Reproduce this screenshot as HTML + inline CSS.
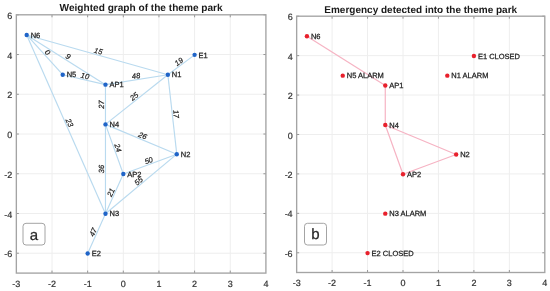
<!DOCTYPE html>
<html><head><meta charset="utf-8"><style>
html,body{margin:0;padding:0;background:#fff;width:550px;height:291px;overflow:hidden}
svg{display:block}
text{font-family:"Liberation Sans",Arial,sans-serif;text-rendering:geometricPrecision}
.tk{font-size:9px;fill:#333;stroke:#333;stroke-width:0.2px}
.ttl{font-size:10px;font-weight:bold;fill:#1a1a1a}
.nl{font-size:7.5px;fill:#222222;stroke:#222222;stroke-width:0.25px}
.el{font-size:7.5px;font-style:italic;fill:#222222;stroke:#222222;stroke-width:0.2px}
.lt{font-size:15px;fill:#262626;stroke:#262626;stroke-width:0.25px}
</style></head><body>
<svg width="550" height="291" viewBox="0 0 550 291">
<rect width="550" height="291" fill="#fff"/>
<line x1="52.00" y1="14.80" x2="52.00" y2="273.10" stroke="#eeeeee" stroke-width="1"/>
<line x1="87.65" y1="14.80" x2="87.65" y2="273.10" stroke="#eeeeee" stroke-width="1"/>
<line x1="123.30" y1="14.80" x2="123.30" y2="273.10" stroke="#eeeeee" stroke-width="1"/>
<line x1="158.95" y1="14.80" x2="158.95" y2="273.10" stroke="#eeeeee" stroke-width="1"/>
<line x1="194.60" y1="14.80" x2="194.60" y2="273.10" stroke="#eeeeee" stroke-width="1"/>
<line x1="230.25" y1="14.80" x2="230.25" y2="273.10" stroke="#eeeeee" stroke-width="1"/>
<line x1="16.35" y1="253.23" x2="265.90" y2="253.23" stroke="#eeeeee" stroke-width="1"/>
<line x1="16.35" y1="213.49" x2="265.90" y2="213.49" stroke="#eeeeee" stroke-width="1"/>
<line x1="16.35" y1="173.75" x2="265.90" y2="173.75" stroke="#eeeeee" stroke-width="1"/>
<line x1="16.35" y1="134.02" x2="265.90" y2="134.02" stroke="#eeeeee" stroke-width="1"/>
<line x1="16.35" y1="94.28" x2="265.90" y2="94.28" stroke="#eeeeee" stroke-width="1"/>
<line x1="16.35" y1="54.54" x2="265.90" y2="54.54" stroke="#eeeeee" stroke-width="1"/>
<line x1="52.00" y1="273.10" x2="52.00" y2="270.60" stroke="#959595" stroke-width="1"/>
<line x1="52.00" y1="14.80" x2="52.00" y2="17.30" stroke="#959595" stroke-width="1"/>
<line x1="87.65" y1="273.10" x2="87.65" y2="270.60" stroke="#959595" stroke-width="1"/>
<line x1="87.65" y1="14.80" x2="87.65" y2="17.30" stroke="#959595" stroke-width="1"/>
<line x1="123.30" y1="273.10" x2="123.30" y2="270.60" stroke="#959595" stroke-width="1"/>
<line x1="123.30" y1="14.80" x2="123.30" y2="17.30" stroke="#959595" stroke-width="1"/>
<line x1="158.95" y1="273.10" x2="158.95" y2="270.60" stroke="#959595" stroke-width="1"/>
<line x1="158.95" y1="14.80" x2="158.95" y2="17.30" stroke="#959595" stroke-width="1"/>
<line x1="194.60" y1="273.10" x2="194.60" y2="270.60" stroke="#959595" stroke-width="1"/>
<line x1="194.60" y1="14.80" x2="194.60" y2="17.30" stroke="#959595" stroke-width="1"/>
<line x1="230.25" y1="273.10" x2="230.25" y2="270.60" stroke="#959595" stroke-width="1"/>
<line x1="230.25" y1="14.80" x2="230.25" y2="17.30" stroke="#959595" stroke-width="1"/>
<line x1="16.35" y1="253.23" x2="18.85" y2="253.23" stroke="#959595" stroke-width="1"/>
<line x1="265.90" y1="253.23" x2="263.40" y2="253.23" stroke="#959595" stroke-width="1"/>
<line x1="16.35" y1="213.49" x2="18.85" y2="213.49" stroke="#959595" stroke-width="1"/>
<line x1="265.90" y1="213.49" x2="263.40" y2="213.49" stroke="#959595" stroke-width="1"/>
<line x1="16.35" y1="173.75" x2="18.85" y2="173.75" stroke="#959595" stroke-width="1"/>
<line x1="265.90" y1="173.75" x2="263.40" y2="173.75" stroke="#959595" stroke-width="1"/>
<line x1="16.35" y1="134.02" x2="18.85" y2="134.02" stroke="#959595" stroke-width="1"/>
<line x1="265.90" y1="134.02" x2="263.40" y2="134.02" stroke="#959595" stroke-width="1"/>
<line x1="16.35" y1="94.28" x2="18.85" y2="94.28" stroke="#959595" stroke-width="1"/>
<line x1="265.90" y1="94.28" x2="263.40" y2="94.28" stroke="#959595" stroke-width="1"/>
<line x1="16.35" y1="54.54" x2="18.85" y2="54.54" stroke="#959595" stroke-width="1"/>
<line x1="265.90" y1="54.54" x2="263.40" y2="54.54" stroke="#959595" stroke-width="1"/>
<line x1="16.35" y1="14.80" x2="18.85" y2="14.80" stroke="#959595" stroke-width="1"/>
<line x1="265.90" y1="14.80" x2="263.40" y2="14.80" stroke="#959595" stroke-width="1"/>
<rect x="16.35" y="14.80" width="249.55" height="258.30" fill="none" stroke="#a4a4a4" stroke-width="1.35"/>
<text x="16.35" y="287.00" text-anchor="middle" class="tk">-3</text>
<text x="52.00" y="287.00" text-anchor="middle" class="tk">-2</text>
<text x="87.65" y="287.00" text-anchor="middle" class="tk">-1</text>
<text x="123.30" y="287.00" text-anchor="middle" class="tk">0</text>
<text x="158.95" y="287.00" text-anchor="middle" class="tk">1</text>
<text x="194.60" y="287.00" text-anchor="middle" class="tk">2</text>
<text x="230.25" y="287.00" text-anchor="middle" class="tk">3</text>
<text x="265.90" y="287.00" text-anchor="middle" class="tk">4</text>
<text x="12.35" y="257.33" text-anchor="end" class="tk">-6</text>
<text x="12.35" y="217.59" text-anchor="end" class="tk">-4</text>
<text x="12.35" y="177.85" text-anchor="end" class="tk">-2</text>
<text x="12.35" y="138.12" text-anchor="end" class="tk">0</text>
<text x="12.35" y="98.38" text-anchor="end" class="tk">2</text>
<text x="12.35" y="58.64" text-anchor="end" class="tk">4</text>
<text x="12.35" y="18.90" text-anchor="end" class="tk">6</text>
<text x="141.12" y="10.50" text-anchor="middle" class="ttl" style="font-size:10.1px">Weighted graph of the theme park</text>
<line x1="26.69" y1="34.97" x2="62.70" y2="74.71" stroke="#b9daef" stroke-width="1.15"/>
<line x1="26.69" y1="34.97" x2="105.47" y2="84.64" stroke="#b9daef" stroke-width="1.15"/>
<line x1="26.69" y1="34.97" x2="167.86" y2="74.71" stroke="#b9daef" stroke-width="1.15"/>
<line x1="26.69" y1="34.97" x2="105.47" y2="213.79" stroke="#b9daef" stroke-width="1.15"/>
<line x1="62.70" y1="74.71" x2="105.47" y2="84.64" stroke="#b9daef" stroke-width="1.15"/>
<line x1="105.47" y1="84.64" x2="167.86" y2="74.71" stroke="#b9daef" stroke-width="1.15"/>
<line x1="105.47" y1="84.64" x2="105.47" y2="124.38" stroke="#b9daef" stroke-width="1.15"/>
<line x1="167.86" y1="74.71" x2="194.60" y2="54.84" stroke="#b9daef" stroke-width="1.15"/>
<line x1="167.86" y1="74.71" x2="105.47" y2="124.38" stroke="#b9daef" stroke-width="1.15"/>
<line x1="167.86" y1="74.71" x2="176.77" y2="154.18" stroke="#b9daef" stroke-width="1.15"/>
<line x1="105.47" y1="124.38" x2="176.77" y2="154.18" stroke="#b9daef" stroke-width="1.15"/>
<line x1="105.47" y1="124.38" x2="123.30" y2="174.05" stroke="#b9daef" stroke-width="1.15"/>
<line x1="105.47" y1="124.38" x2="105.47" y2="213.79" stroke="#b9daef" stroke-width="1.15"/>
<line x1="123.30" y1="174.05" x2="176.77" y2="154.18" stroke="#b9daef" stroke-width="1.15"/>
<line x1="105.47" y1="213.79" x2="176.77" y2="154.18" stroke="#b9daef" stroke-width="1.15"/>
<line x1="105.47" y1="213.79" x2="123.30" y2="174.05" stroke="#b9daef" stroke-width="1.15"/>
<line x1="105.47" y1="213.79" x2="87.65" y2="253.53" stroke="#b9daef" stroke-width="1.15"/>
<text transform="translate(47.66,52.15) rotate(47.8)" x="0" y="2.7" text-anchor="middle" class="el">0</text>
<text transform="translate(68.22,56.42) rotate(32.2)" x="0" y="2.7" text-anchor="middle" class="el">9</text>
<text transform="translate(98.36,50.99) rotate(15.7)" x="0" y="2.7" text-anchor="middle" class="el">15</text>
<text transform="translate(69.74,122.77) rotate(66.2)" x="0" y="2.7" text-anchor="middle" class="el">23</text>
<text transform="translate(84.99,75.78) rotate(13.1)" x="0" y="2.7" text-anchor="middle" class="el">10</text>
<text transform="translate(136.04,75.72) rotate(-9.0)" x="0" y="2.7" text-anchor="middle" class="el">48</text>
<text transform="translate(101.47,104.51) rotate(-90.0)" x="0" y="2.7" text-anchor="middle" class="el">27</text>
<text transform="translate(178.85,61.56) rotate(-36.6)" x="0" y="2.7" text-anchor="middle" class="el">19</text>
<text transform="translate(134.18,96.41) rotate(-38.5)" x="0" y="2.7" text-anchor="middle" class="el">25</text>
<text transform="translate(176.29,114.00) rotate(83.6)" x="0" y="2.7" text-anchor="middle" class="el">17</text>
<text transform="translate(142.67,135.59) rotate(22.7)" x="0" y="2.7" text-anchor="middle" class="el">26</text>
<text transform="translate(118.15,147.87) rotate(70.3)" x="0" y="2.7" text-anchor="middle" class="el">24</text>
<text transform="translate(101.47,169.09) rotate(-90.0)" x="0" y="2.7" text-anchor="middle" class="el">36</text>
<text transform="translate(148.64,160.37) rotate(-20.4)" x="0" y="2.7" text-anchor="middle" class="el">50</text>
<text transform="translate(138.56,180.92) rotate(-39.9)" x="0" y="2.7" text-anchor="middle" class="el">55</text>
<text transform="translate(110.74,192.29) rotate(-65.8)" x="0" y="2.7" text-anchor="middle" class="el">21</text>
<text transform="translate(92.91,232.02) rotate(-65.8)" x="0" y="2.7" text-anchor="middle" class="el">47</text>
<circle cx="26.69" cy="34.97" r="2.2" fill="#1f64c8"/>
<text x="30.69" y="37.67" class="nl">N6</text>
<circle cx="194.60" cy="54.84" r="2.2" fill="#1f64c8"/>
<text x="198.60" y="57.54" class="nl">E1</text>
<circle cx="62.70" cy="74.71" r="2.2" fill="#1f64c8"/>
<text x="66.69" y="77.41" class="nl">N5</text>
<circle cx="167.86" cy="74.71" r="2.2" fill="#1f64c8"/>
<text x="171.86" y="77.41" class="nl">N1</text>
<circle cx="105.47" cy="84.64" r="2.2" fill="#1f64c8"/>
<text x="109.47" y="87.34" class="nl">AP1</text>
<circle cx="105.47" cy="124.38" r="2.2" fill="#1f64c8"/>
<text x="109.47" y="127.08" class="nl">N4</text>
<circle cx="176.77" cy="154.18" r="2.2" fill="#1f64c8"/>
<text x="180.77" y="156.88" class="nl">N2</text>
<circle cx="123.30" cy="174.05" r="2.2" fill="#1f64c8"/>
<text x="127.30" y="176.75" class="nl">AP2</text>
<circle cx="105.47" cy="213.79" r="2.2" fill="#1f64c8"/>
<text x="109.47" y="216.49" class="nl">N3</text>
<circle cx="87.65" cy="253.53" r="2.2" fill="#1f64c8"/>
<text x="91.65" y="256.23" class="nl">E2</text>
<rect x="23" y="223.3" width="22" height="21.7" rx="3" fill="#fff" stroke="#9a9a9a" stroke-width="0.9"/>
<text x="34" y="239.6" text-anchor="middle" class="lt">a</text>
<line x1="332.10" y1="16.20" x2="332.10" y2="272.50" stroke="#eeeeee" stroke-width="1"/>
<line x1="367.55" y1="16.20" x2="367.55" y2="272.50" stroke="#eeeeee" stroke-width="1"/>
<line x1="403.00" y1="16.20" x2="403.00" y2="272.50" stroke="#eeeeee" stroke-width="1"/>
<line x1="438.45" y1="16.20" x2="438.45" y2="272.50" stroke="#eeeeee" stroke-width="1"/>
<line x1="473.90" y1="16.20" x2="473.90" y2="272.50" stroke="#eeeeee" stroke-width="1"/>
<line x1="509.35" y1="16.20" x2="509.35" y2="272.50" stroke="#eeeeee" stroke-width="1"/>
<line x1="296.65" y1="252.78" x2="544.80" y2="252.78" stroke="#eeeeee" stroke-width="1"/>
<line x1="296.65" y1="213.35" x2="544.80" y2="213.35" stroke="#eeeeee" stroke-width="1"/>
<line x1="296.65" y1="173.92" x2="544.80" y2="173.92" stroke="#eeeeee" stroke-width="1"/>
<line x1="296.65" y1="134.49" x2="544.80" y2="134.49" stroke="#eeeeee" stroke-width="1"/>
<line x1="296.65" y1="95.06" x2="544.80" y2="95.06" stroke="#eeeeee" stroke-width="1"/>
<line x1="296.65" y1="55.63" x2="544.80" y2="55.63" stroke="#eeeeee" stroke-width="1"/>
<line x1="332.10" y1="272.50" x2="332.10" y2="270.00" stroke="#959595" stroke-width="1"/>
<line x1="332.10" y1="16.20" x2="332.10" y2="18.70" stroke="#959595" stroke-width="1"/>
<line x1="367.55" y1="272.50" x2="367.55" y2="270.00" stroke="#959595" stroke-width="1"/>
<line x1="367.55" y1="16.20" x2="367.55" y2="18.70" stroke="#959595" stroke-width="1"/>
<line x1="403.00" y1="272.50" x2="403.00" y2="270.00" stroke="#959595" stroke-width="1"/>
<line x1="403.00" y1="16.20" x2="403.00" y2="18.70" stroke="#959595" stroke-width="1"/>
<line x1="438.45" y1="272.50" x2="438.45" y2="270.00" stroke="#959595" stroke-width="1"/>
<line x1="438.45" y1="16.20" x2="438.45" y2="18.70" stroke="#959595" stroke-width="1"/>
<line x1="473.90" y1="272.50" x2="473.90" y2="270.00" stroke="#959595" stroke-width="1"/>
<line x1="473.90" y1="16.20" x2="473.90" y2="18.70" stroke="#959595" stroke-width="1"/>
<line x1="509.35" y1="272.50" x2="509.35" y2="270.00" stroke="#959595" stroke-width="1"/>
<line x1="509.35" y1="16.20" x2="509.35" y2="18.70" stroke="#959595" stroke-width="1"/>
<line x1="296.65" y1="252.78" x2="299.15" y2="252.78" stroke="#959595" stroke-width="1"/>
<line x1="544.80" y1="252.78" x2="542.30" y2="252.78" stroke="#959595" stroke-width="1"/>
<line x1="296.65" y1="213.35" x2="299.15" y2="213.35" stroke="#959595" stroke-width="1"/>
<line x1="544.80" y1="213.35" x2="542.30" y2="213.35" stroke="#959595" stroke-width="1"/>
<line x1="296.65" y1="173.92" x2="299.15" y2="173.92" stroke="#959595" stroke-width="1"/>
<line x1="544.80" y1="173.92" x2="542.30" y2="173.92" stroke="#959595" stroke-width="1"/>
<line x1="296.65" y1="134.49" x2="299.15" y2="134.49" stroke="#959595" stroke-width="1"/>
<line x1="544.80" y1="134.49" x2="542.30" y2="134.49" stroke="#959595" stroke-width="1"/>
<line x1="296.65" y1="95.06" x2="299.15" y2="95.06" stroke="#959595" stroke-width="1"/>
<line x1="544.80" y1="95.06" x2="542.30" y2="95.06" stroke="#959595" stroke-width="1"/>
<line x1="296.65" y1="55.63" x2="299.15" y2="55.63" stroke="#959595" stroke-width="1"/>
<line x1="544.80" y1="55.63" x2="542.30" y2="55.63" stroke="#959595" stroke-width="1"/>
<line x1="296.65" y1="16.20" x2="299.15" y2="16.20" stroke="#959595" stroke-width="1"/>
<line x1="544.80" y1="16.20" x2="542.30" y2="16.20" stroke="#959595" stroke-width="1"/>
<rect x="296.65" y="16.20" width="248.15" height="256.30" fill="none" stroke="#a4a4a4" stroke-width="1.35"/>
<text x="296.65" y="286.40" text-anchor="middle" class="tk">-3</text>
<text x="332.10" y="286.40" text-anchor="middle" class="tk">-2</text>
<text x="367.55" y="286.40" text-anchor="middle" class="tk">-1</text>
<text x="403.00" y="286.40" text-anchor="middle" class="tk">0</text>
<text x="438.45" y="286.40" text-anchor="middle" class="tk">1</text>
<text x="473.90" y="286.40" text-anchor="middle" class="tk">2</text>
<text x="509.35" y="286.40" text-anchor="middle" class="tk">3</text>
<text x="544.80" y="286.40" text-anchor="middle" class="tk">4</text>
<text x="292.65" y="256.88" text-anchor="end" class="tk">-6</text>
<text x="292.65" y="217.45" text-anchor="end" class="tk">-4</text>
<text x="292.65" y="178.02" text-anchor="end" class="tk">-2</text>
<text x="292.65" y="138.59" text-anchor="end" class="tk">0</text>
<text x="292.65" y="99.16" text-anchor="end" class="tk">2</text>
<text x="292.65" y="59.73" text-anchor="end" class="tk">4</text>
<text x="292.65" y="20.30" text-anchor="end" class="tk">6</text>
<text x="420.72" y="13.30" text-anchor="middle" class="ttl" style="font-size:10px">Emergency detected into the theme park</text>
<line x1="306.93" y1="36.22" x2="385.27" y2="85.50" stroke="#f6b3c3" stroke-width="1.2"/>
<line x1="385.27" y1="85.50" x2="385.27" y2="124.93" stroke="#f6b3c3" stroke-width="1.2"/>
<line x1="385.27" y1="124.93" x2="456.17" y2="154.51" stroke="#f6b3c3" stroke-width="1.2"/>
<line x1="456.17" y1="154.51" x2="403.00" y2="174.22" stroke="#f6b3c3" stroke-width="1.2"/>
<line x1="403.00" y1="174.22" x2="385.27" y2="124.93" stroke="#f6b3c3" stroke-width="1.2"/>
<circle cx="306.93" cy="36.22" r="2.2" fill="#e8202c"/>
<text x="310.93" y="38.92" class="nl">N6</text>
<circle cx="473.90" cy="55.93" r="2.2" fill="#e8202c"/>
<text x="477.90" y="58.63" class="nl">E1 CLOSED</text>
<circle cx="342.73" cy="75.65" r="2.2" fill="#e8202c"/>
<text x="346.73" y="78.35" class="nl">N5 ALARM</text>
<circle cx="447.31" cy="75.65" r="2.2" fill="#e8202c"/>
<text x="451.31" y="78.35" class="nl">N1 ALARM</text>
<circle cx="385.27" cy="85.50" r="2.2" fill="#e8202c"/>
<text x="389.27" y="88.20" class="nl">AP1</text>
<circle cx="385.27" cy="124.93" r="2.2" fill="#e8202c"/>
<text x="389.27" y="127.63" class="nl">N4</text>
<circle cx="456.17" cy="154.51" r="2.2" fill="#e8202c"/>
<text x="460.17" y="157.21" class="nl">N2</text>
<circle cx="403.00" cy="174.22" r="2.2" fill="#e8202c"/>
<text x="407.00" y="176.92" class="nl">AP2</text>
<circle cx="385.27" cy="213.65" r="2.2" fill="#e8202c"/>
<text x="389.27" y="216.35" class="nl">N3 ALARM</text>
<circle cx="367.55" cy="253.08" r="2.2" fill="#e8202c"/>
<text x="371.55" y="255.78" class="nl">E2 CLOSED</text>
<rect x="304.5" y="223.3" width="22" height="21.7" rx="3" fill="#fff" stroke="#9a9a9a" stroke-width="0.9"/>
<text x="315.5" y="239.1" text-anchor="middle" class="lt">b</text>
</svg>
</body></html>
